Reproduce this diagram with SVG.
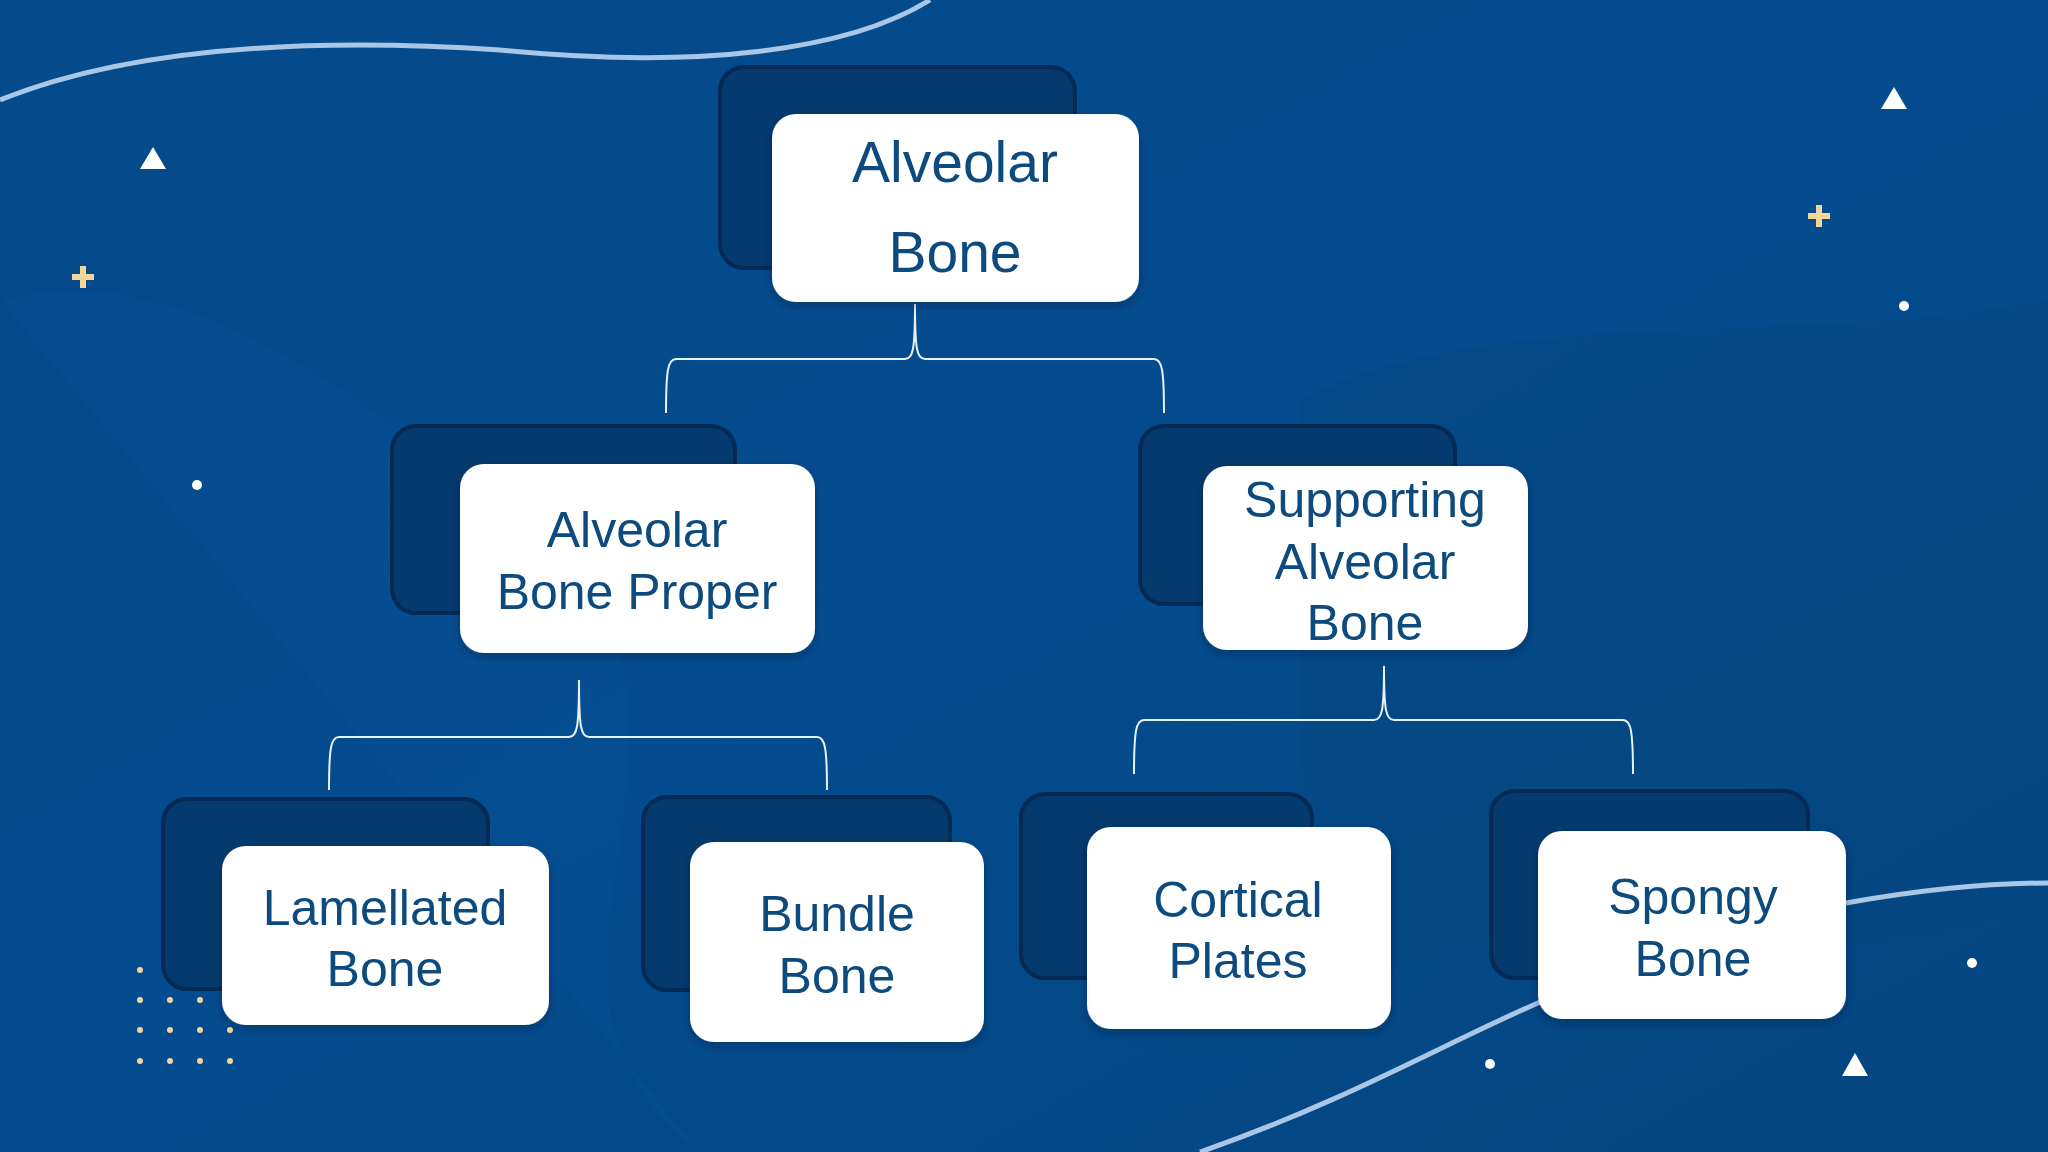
<svg xmlns="http://www.w3.org/2000/svg" width="2048" height="1152" viewBox="0 0 2048 1152">
<defs>
<linearGradient id="bg" x1="0" y1="0" x2="1" y2="1"><stop offset="0" stop-color="#054a8a"/><stop offset="0.5" stop-color="#044c8e"/><stop offset="1" stop-color="#03457f"/></linearGradient>
<filter id="sh" x="-10%" y="-10%" width="120%" height="130%"><feDropShadow dx="0" dy="4" stdDeviation="4" flood-color="#001a3a" flood-opacity="0.35"/></filter>
<style>
.back{fill:#053a6e;stroke:#022a55;stroke-width:4}
.front{fill:#ffffff;filter:url(#sh)}
.t{font-family:"Liberation Sans",Arial,sans-serif;fill:#0d4a7e;text-anchor:middle;dominant-baseline:central;font-size:50px}
.big{font-size:57px}
.br{fill:none;stroke:#e8f0f8;stroke-width:2}
.deco{fill:none;stroke:#a9c6e6;stroke-width:5}
</style>
</defs>
<rect width="2048" height="1152" fill="url(#bg)"/>
<path d="M0 300 C200 250 400 420 600 600 C700 800 500 1000 700 1152" fill="#054f93" opacity="0.5"/>
<path d="M1300 400 C1500 300 1800 350 2048 300 L2048 900 C1800 1000 1500 900 1300 1000 Z" fill="#04467f" opacity="0.5"/>
<path class="deco" d="M0 100 C150 40 350 40 500 50 C700 70 850 50 930 0"/>
<path class="deco" d="M1200 1152 C1350 1100 1450 1040 1545 1000"/>
<path class="deco" d="M1846 903 C1920 890 1990 883 2048 883"/>
<g fill="#ffffff"><polygon points="153,147 140,169 166,169"/><polygon points="1894,87 1881,109 1907,109"/><polygon points="1855,1053 1842,1076 1868,1076"/>
<circle cx="197" cy="485" r="5"/><circle cx="1904" cy="306" r="5"/><circle cx="1972" cy="963" r="5"/><circle cx="1490" cy="1064" r="5"/></g>
<g fill="#f3d59a"><path d="M72 274h8v-8h6v8h8v6h-8v8h-6v-8h-8z"/><path d="M1808 213h8v-8h6v8h8v6h-8v8h-6v-8h-8z"/>
<circle cx="140" cy="970" r="3"/><circle cx="140" cy="1000" r="3"/><circle cx="170" cy="1000" r="3"/><circle cx="200" cy="1000" r="3"/><circle cx="140" cy="1030" r="3"/><circle cx="170" cy="1030" r="3"/><circle cx="200" cy="1030" r="3"/><circle cx="230" cy="1030" r="3"/><circle cx="140" cy="1061" r="3"/><circle cx="170" cy="1061" r="3"/><circle cx="200" cy="1061" r="3"/><circle cx="230" cy="1061" r="3"/></g>
<g id="connectors">
<path class="br" d="M915 304 C915 350 913 359 905 359 L676 359 C668 359 666 370 666 413"/>
<path class="br" d="M915 304 C915 350 917 359 925 359 L1154 359 C1162 359 1164 370 1164 413"/>
<path class="br" d="M579 680 C579 728 577 737 569 737 L339 737 C331 737 329 748 329 790"/>
<path class="br" d="M579 680 C579 728 581 737 589 737 L817 737 C825 737 827 748 827 790"/>
<path class="br" d="M1384 666 C1384 711 1382 720 1374 720 L1144 720 C1136 720 1134 731 1134 774"/>
<path class="br" d="M1384 666 C1384 711 1386 720 1394 720 L1623 720 C1631 720 1633 731 1633 774"/>
</g>
<g id="root"><rect class="back" x="720" y="67" width="355" height="201" rx="24"/><rect class="front" x="772" y="114" width="367" height="188" rx="24"/><text class="t big" x="955" y="162">Alveolar</text><text class="t big" x="955" y="252">Bone</text></g>
<g id="abp"><rect class="back" x="392" y="426" width="343" height="187" rx="24"/><rect class="front" x="460" y="464" width="355" height="189" rx="24"/><text class="t" x="637" y="530">Alveolar</text><text class="t" x="637" y="592">Bone Proper</text></g>
<g id="sab"><rect class="back" x="1140" y="426" width="315" height="178" rx="24"/><rect class="front" x="1203" y="466" width="325" height="184" rx="24"/><text class="t" x="1365" y="500">Supporting</text><text class="t" x="1365" y="562">Alveolar</text><text class="t" x="1365" y="623">Bone</text></g>
<g id="lam"><rect class="back" x="163" y="799" width="325" height="190" rx="24"/><rect class="front" x="222" y="846" width="327" height="179" rx="24"/><text class="t" x="385" y="908">Lamellated</text><text class="t" x="385" y="969">Bone</text></g>
<g id="bundle"><rect class="back" x="643" y="797" width="307" height="193" rx="24"/><rect class="front" x="690" y="842" width="294" height="200" rx="24"/><text class="t" x="837" y="914">Bundle</text><text class="t" x="837" y="976">Bone</text></g>
<g id="cortical"><rect class="back" x="1021" y="794" width="291" height="184" rx="24"/><rect class="front" x="1087" y="827" width="304" height="202" rx="24"/><text class="t" x="1238" y="900">Cortical</text><text class="t" x="1238" y="961">Plates</text></g>
<g id="spongy"><rect class="back" x="1491" y="791" width="317" height="187" rx="24"/><rect class="front" x="1538" y="831" width="308" height="188" rx="24"/><text class="t" x="1693" y="897">Spongy</text><text class="t" x="1693" y="959">Bone</text></g>
</svg>
